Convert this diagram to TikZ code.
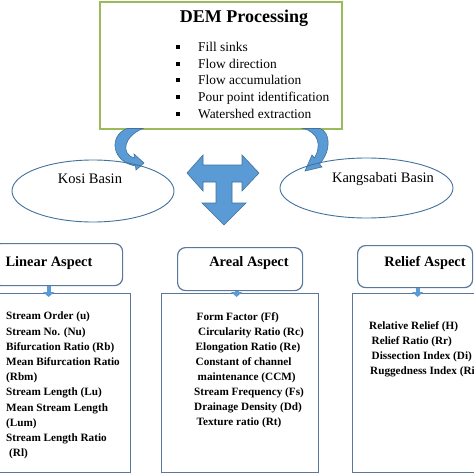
\documentclass[tikz,border=0pt]{standalone}
\usepackage{fontspec}
\setmainfont{Liberation Serif}
\usetikzlibrary{arrows.meta,positioning,shapes.geometric}
\definecolor{demgreen}{RGB}{155,187,89}
\definecolor{flowblue}{RGB}{91,155,213}
\definecolor{flowedge}{RGB}{65,113,156}
\definecolor{boxedge}{RGB}{90,120,155}
\newcommand{\sqbul}{\rule[2.5pt]{4pt}{4pt}}

\begin{document}
\begin{tikzpicture}[x=1pt, y=-1pt,
                    dembox/.style={rectangle, draw=demgreen, line width=1.6pt, anchor=north west},
                    basin/.style={ellipse, draw=flowedge, line width=0.9pt},
                    basintext/.style={font=\fontsize{14.5}{16}\selectfont},
                    aspecthead/.style={rectangle, rounded corners=8pt, draw=boxedge, line width=1.2pt, anchor=north west},
                    headtext/.style={font=\bfseries\fontsize{14.4}{16}\selectfont},
                    aspectbody/.style={rectangle, draw=boxedge, line width=1.2pt, anchor=north west, minimum height=179pt},
                    listtext/.style={align=left, anchor=north west, inner sep=0pt, font=\bfseries\fontsize{11.2}{15}\selectfont},
                    blockarrow/.style={fill=flowblue, draw=flowedge, line width=0.6pt},
                    minarrow/.style={draw=flowblue, line width=4pt, -{Triangle[width=11pt,length=5pt]}}]
  \useasboundingbox (0,0) rectangle (474,474);
  \clip (0,0) rectangle (474,474);

  \node[dembox, minimum width=242pt, minimum height=127pt] (dem) at (99,1) {};
  \node[font=\bfseries\fontsize{18}{20}\selectfont] (demtitle) at (244,18) {DEM Processing};
  \node[anchor=north west, align=left, inner sep=0pt, font=\fontsize{13.4}{16.67}\selectfont] (demlist) at (176,42)
    {\sqbul\hspace{18pt}Fill sinks\\ \sqbul\hspace{18pt}Flow direction\\ \sqbul\hspace{18pt}Flow accumulation\\
     \sqbul\hspace{18pt}Pour point identification\\ \sqbul\hspace{18pt}Watershed extraction};

  \draw[blockarrow] (127,128.5) .. controls (108,136) and (112,162) .. (135.5,166) -- (136,170) -- (144,163)
    -- (134,154) -- (134.5,158) .. controls (120,154) and (124,136) .. (143,128.5) -- cycle;
  \draw[blockarrow] (303,128.5) .. controls (318,132) and (322,145) .. (314.5,158) -- (312,155) -- (305,171)
    -- (322,167) -- (319.5,164) .. controls (332,150) and (330,132) .. (320,128.5) -- cycle;

  \node[basin, minimum width=162pt, minimum height=62pt] (kosi) at (93,191) {};
  \node[basintext] (kositext) at (90,179) {Kosi Basin};
  \node[basin, minimum width=173pt, minimum height=60pt] (kang) at (366.5,188) {};
  \node[basintext] (kangtext) at (383,179) {Kangsabati Basin};

  \draw[blockarrow] (187,173) -- (203,155) -- (203,165) -- (242,165) -- (242,155) -- (259,173) -- (242,191)
    -- (242,182) -- (232,182) -- (232,203) -- (246,203) -- (224,225) -- (202,203) -- (216,203) -- (216,182)
    -- (203,182) -- (203,191) -- cycle;

  \node[aspecthead, minimum width=130pt, minimum height=42pt] (linhead) at (-8,243) {};
  \node[headtext] (lintext) at (49,263) {Linear Aspect};
  \node[aspecthead, minimum width=125pt, minimum height=43pt] (arehead) at (177,247) {};
  \node[headtext] (aretext) at (249,263) {Areal Aspect};
  \node[aspecthead, minimum width=115pt, minimum height=42pt] (relhead) at (357,245) {};
  \node[headtext] (reltext) at (425,263) {Relief Aspect};

  \node[aspectbody, minimum width=138pt] (linbody) at (-8,293) {};
  \node[aspectbody, minimum width=157pt] (arebody) at (161,293) {};
  \node[aspectbody, minimum width=130pt] (relbody) at (352,293) {};

  \draw[minarrow] ([xshift=-9pt]linhead.south) -- ([xshift=-9pt, yshift=-4pt]linhead.south |- linbody.north);
  \draw[minarrow] ([xshift=-3.5pt]arehead.south) -- ([xshift=-3.5pt, yshift=-4pt]arehead.south |- arebody.north);
  \draw[minarrow] ([xshift=2.5pt]relhead.south) -- ([xshift=2.5pt, yshift=-4pt]relhead.south |- relbody.north);

  \node[listtext, font=\bfseries\fontsize{11.2}{15.2}\selectfont] (linlist) at (6,312)
    {Stream Order (u)\\ Stream No. (Nu)\\ Bifurcation Ratio (Rb)\\ Mean Bifurcation Ratio\\ (Rbm)\\
     Stream Length (Lu)\\ Mean Stream Length\\ (Lum)\\ Stream Length Ratio\\ \hspace*{3pt}(Rl)};
  \node[listtext] (arelist) at (194,312)
    {\hspace*{2.5pt}Form Factor (Ff)\\ \hspace*{4pt}Circularity Ratio (Rc)\\ \hspace*{1.5pt}Elongation Ratio (Re)\\
     \hspace*{1.5pt}Constant of channel\\ \hspace*{3.5pt}maintenance (CCM)\\ Stream Frequency (Fs)\\
     Drainage Density (Dd)\\ \hspace*{2.5pt}Texture ratio (Rt)};
  \node[listtext] (rellist) at (369,321)
    {Relative Relief (H)\\ \hspace*{2.5pt}Relief Ratio (Rr)\\ \hspace*{2.5pt}Dissection Index (Di)\\
     \hspace*{1pt}Ruggedness Index (Ri)};
\end{tikzpicture}
\end{document}
